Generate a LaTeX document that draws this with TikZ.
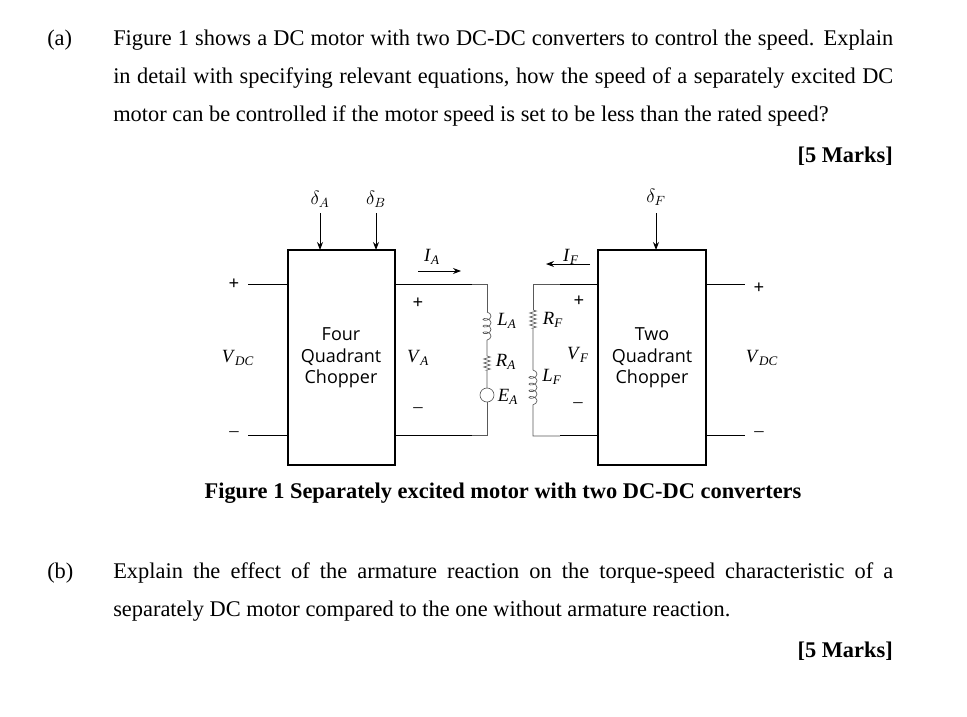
\documentclass[tikz,border=0pt]{standalone}
\usepackage{fontspec}
\setmainfont{Liberation Serif}
\newfontfamily\boxfont{Open Sans}
\usetikzlibrary{decorations.pathmorphing,arrows.meta}
\newcommand{\vl}[2]{\textit{#1}\textsubscript{\textit{#2}}}
\begin{document}
\begin{tikzpicture}[x=0.75pt,y=-0.75pt,
  txt/.style={font=\fontsize{16.8}{20}\selectfont,inner sep=0pt},
  para/.style={txt,anchor=west,text width=585pt,align=justify,execute at begin node={\parfillskip=0pt}},
  blk/.style={draw,line width=1.6pt},
  wire/.style={line width=0.7pt},
  thin/.style={line width=0.5pt,gray!70!black},
  lab/.style={font=\fontsize{14}{16}\selectfont,inner sep=1pt},
  pl/.style={font=\bfseries\fontsize{14}{16}\selectfont,inner sep=1pt},
  bl/.style={font=\boxfont\fontsize{13.5}{16}\selectfont,align=center},
  arr/.style={-{Stealth[length=6pt]},line width=0.7pt}]
\useasboundingbox (0,0) rectangle (967,717);
\node[txt,anchor=west] (pa) at (47,40) {(a)};
\node[para] (l1) at (113,40) {Figure 1 shows a DC motor with two DC-DC converters to control the speed. Explain};
\node[para] (l2) at (113,78) {in detail with specifying relevant equations, how the speed of a separately excited DC};
\node[txt,anchor=west] (l3) at (113,116) {motor can be controlled if the motor speed is set to be less than the rated speed?};
\node[txt,anchor=east,font=\bfseries\fontsize{16.8}{20}\selectfont] (m1) at (893,156) {[5 Marks]};
% circuit
\draw[blk] (288,250) rectangle (395,465);
\node[bl] (fq) at (341,358) {Four\\Quadrant\\Chopper};
\draw[blk] (598,250) rectangle (706,465);
\node[bl] (tq) at (652,358) {Two\\Quadrant\\Chopper};
\coordinate (lt) at (248,284); \coordinate (lb) at (248,435);
\draw[wire] (lt) -- (288,284); \draw[wire] (lb) -- (288,435);
\coordinate (rt) at (745,284); \coordinate (rb) at (745,435);
\draw[wire] (706,284) -- (rt); \draw[wire] (706,435) -- (rb);
\node[pl] at (234,284) {+}; \node[lab] at (234,434) {--};
\node[pl] at (759,288) {+}; \node[lab] at (759,434) {--};
\node[lab] at (238,358) {\vl{V}{DC}}; \node[lab] at (762,358) {\vl{V}{DC}};
% armature
\draw[wire] (395,284) -- (472,284); \draw[wire] (395,435) -- (472,435);
\draw[thin] (472,284) -- (487,284) -- (487,312);
\draw[thin] (487,312) decorate[decoration={coil,aspect=0.6,segment length=5pt,amplitude=3pt}]{-- (487,345)} -- (487,356);
\draw[thin] (487,356) decorate[decoration={zigzag,segment length=3pt,amplitude=2.5pt}]{-- (487,370)} -- (487,388);
\draw[thin] (487,395) circle (7);
\draw[thin] (487,402) -- (487,435) -- (472,435);
\node[lab] at (507,321) {\vl{L}{A}}; \node[lab] at (506,362) {\vl{R}{A}}; \node[lab] at (508,397) {\vl{E}{A}};
\node[pl] at (418,303) {+}; \node[lab] at (418,358) {\vl{V}{A}}; \node[lab] at (418,410) {--};
\draw[arr] (418,271) -- (461,271); \node[lab] at (432,257) {\vl{I}{A}};
% field
\draw[thin] (533,284) -- (560,284); \draw[wire] (560,284) -- (598,284);
\draw[thin] (533,284) -- (533,310);
\draw[thin] (533,310) decorate[decoration={zigzag,segment length=3pt,amplitude=2.5pt}]{-- (533,328)} -- (533,370);
\draw[thin] (533,370) decorate[decoration={coil,aspect=0.6,segment length=5pt,amplitude=3pt}]{-- (533,410)} -- (533,436) -- (560,436);
\draw[wire] (560,435) -- (598,435);
\node[lab] at (553,320) {\vl{R}{F}}; \node[lab] at (552,377) {\vl{L}{F}};
\node[pl] at (579,301) {+}; \node[lab] at (578,355) {\vl{V}{F}}; \node[lab] at (578,405) {--};
\draw[arr] (590,264) -- (546,264); \node[lab] at (571,257) {\vl{I}{F}};
% controls
\draw[arr] (320,213) -- (320,250); \node[lab] at (320,199) {$\delta_A$};
\draw[arr] (376,213) -- (376,250); \node[lab] at (376,199) {$\delta_B$};
\draw[arr] (656,213) -- (656,250); \node[lab] at (656,197) {$\delta_F$};
\node[txt,font=\bfseries\fontsize{16.8}{20}\selectfont] (cap) at (503,493) {Figure 1 Separately excited motor with two DC-DC converters};
\node[txt,anchor=west] (pb) at (47,573) {(b)};
\node[para] (b1) at (113,573) {Explain the effect of the armature reaction on the torque-speed characteristic of a};
\node[txt,anchor=west] (b2) at (113,611) {separately DC motor compared to the one without armature reaction.};
\node[txt,anchor=east,font=\bfseries\fontsize{16.8}{20}\selectfont] (m2) at (893,651) {[5 Marks]};
\end{tikzpicture}
\end{document}
